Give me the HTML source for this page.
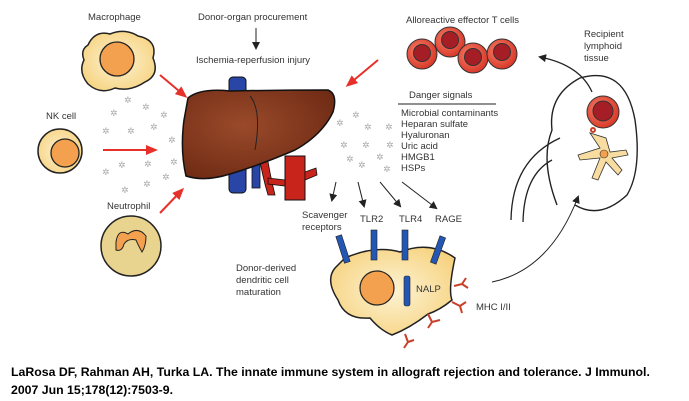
<!DOCTYPE html>
<html><head><style>
body{margin:0;width:689px;height:401px;background:#fff;overflow:hidden}
svg{display:block}
.t{font-family:"Liberation Sans",sans-serif;font-size:9.5px;fill:#333}
.c{font-family:"Liberation Sans",sans-serif;font-size:12.3px;font-weight:bold;fill:#000}
</style></head><body>
<svg width="689" height="401" viewBox="0 0 689 401">
<defs>
<marker id="ab" markerWidth="8" markerHeight="8" refX="6" refY="4" orient="auto" markerUnits="userSpaceOnUse"><path d="M0,0L8,4L0,8z" fill="#222"/></marker>
<marker id="ar" markerWidth="12" markerHeight="10" refX="9" refY="5" orient="auto" markerUnits="userSpaceOnUse"><path d="M0,0L12,5L0,10z" fill="#e8302a"/></marker>
<radialGradient id="cell" cx="0.5" cy="0.5" r="0.6"><stop offset="0" stop-color="#fdf3d4"/><stop offset="1" stop-color="#f6d27e"/></radialGradient>
<radialGradient id="tc" cx="0.4" cy="0.4" r="0.6"><stop offset="0" stop-color="#f7816a"/><stop offset="1" stop-color="#d93a2a"/></radialGradient>
<radialGradient id="lv" cx="0.4" cy="0.4" r="0.7"><stop offset="0" stop-color="#9a4a2a"/><stop offset="1" stop-color="#6e2a14"/></radialGradient>
</defs>
<text class="t" x="88" y="20">Macrophage</text>
<text class="t" x="198" y="20">Donor-organ procurement</text>
<text class="t" x="196" y="63">Ischemia-reperfusion injury</text>
<line x1="256" y1="28" x2="256" y2="48" stroke="#222" stroke-width="1" marker-end="url(#ab)"/>
<text class="t" x="46" y="119">NK cell</text>
<text class="t" x="107" y="209">Neutrophil</text>
<path d="M88,45 Q95,30 110,34 Q125,28 138,36 Q158,40 153,58 Q160,75 145,82 Q130,92 115,88 Q100,95 88,84 Q78,72 84,60 Q80,50 88,45z" fill="url(#cell)" stroke="#222" stroke-width="1.5"/>
<circle cx="117" cy="59" r="17" fill="#f3a14e" stroke="#222" stroke-width="1.3"/>
<circle cx="60" cy="151" r="22" fill="url(#cell)" stroke="#222" stroke-width="1.5"/>
<circle cx="65" cy="153" r="14" fill="#f3a14e" stroke="#222" stroke-width="1.3"/>
<circle cx="131" cy="246" r="30" fill="#e8d48f" stroke="#222" stroke-width="1.5"/>
<path d="M116,242 Q118,228 128,234 Q138,226 146,236 Q146,246 142,252 Q138,245 136,240 Q128,238 124,244 Q122,252 116,250z" fill="#f3a14e" stroke="#222" stroke-width="1"/>
<line x1="160" y1="75" x2="185" y2="96" stroke="#e8302a" stroke-width="2" marker-end="url(#ar)"/>
<line x1="103" y1="150" x2="155" y2="150" stroke="#e8302a" stroke-width="2" marker-end="url(#ar)"/>
<line x1="160" y1="213" x2="182" y2="190" stroke="#e8302a" stroke-width="2" marker-end="url(#ar)"/>
<line x1="378" y1="60" x2="348" y2="85" stroke="#e8302a" stroke-width="2" marker-end="url(#ar)"/>
<rect x="229" y="77" width="17" height="116" rx="4" fill="#2945a6" stroke="#111" stroke-width="1"/>
<rect x="252" y="140" width="8" height="48" fill="#2945a6" stroke="#111" stroke-width="0.8"/>
<path d="M258,150 Q262,175 268,195 L275,195 Q270,175 266,150z" fill="#c8241c" stroke="#111" stroke-width="0.8"/>
<rect x="285" y="156" width="20" height="44" fill="#c8241c" stroke="#111" stroke-width="1"/>
<path d="M268,178 L285,180 L285,186 L268,184z M305,172 L316,168 L317,175 L305,180z" fill="#c8241c" stroke="#111" stroke-width="0.8"/>
<path d="M188,98 Q200,88 230,91 Q280,90 328,90 Q338,94 333,112 Q322,135 295,150 Q260,165 230,174 Q205,182 186,176 Q180,150 184,120z" fill="url(#lv)" stroke="#111" stroke-width="1.5"/>
<path d="M250,96 Q262,110 255,150" fill="none" stroke="#222" stroke-width="1"/>
<g font-family="DejaVu Sans" font-size="9" fill="#aaa">
<text x="124" y="103">✲</text><text x="142" y="110">✲</text><text x="110" y="116">✲</text><text x="160" y="118">✲</text>
<text x="102" y="134">✲</text><text x="127" y="134">✲</text><text x="150" y="130">✲</text><text x="168" y="143">✲</text>
<text x="118" y="168">✲</text><text x="144" y="167">✲</text><text x="170" y="165">✲</text><text x="102" y="175">✲</text>
<text x="162" y="180">✲</text><text x="121" y="193">✲</text><text x="143" y="187">✲</text>
<text x="352" y="118">✲</text><text x="364" y="130">✲</text><text x="385" y="130">✲</text><text x="362" y="148">✲</text>
<text x="386" y="148">✲</text><text x="376" y="160">✲</text><text x="358" y="168">✲</text><text x="383" y="172">✲</text>
<text x="336" y="126">✲</text><text x="340" y="148">✲</text><text x="346" y="162">✲</text>
</g>
<g stroke="#333" stroke-width="1">
<circle cx="422" cy="54" r="15" fill="url(#tc)"/><circle cx="422" cy="53" r="8.5" fill="#a51e26"/>
<circle cx="450" cy="42" r="15" fill="url(#tc)"/><circle cx="450" cy="40" r="8.5" fill="#a51e26"/>
<circle cx="473" cy="58" r="15" fill="url(#tc)"/><circle cx="473" cy="57" r="8.5" fill="#a51e26"/>
<circle cx="502" cy="54" r="15" fill="url(#tc)"/><circle cx="502" cy="52" r="8.5" fill="#a51e26"/>
</g>
<text class="t" x="406" y="23">Alloreactive effector T cells</text>
<text class="t" x="584" y="37">Recipient</text>
<text class="t" x="584" y="49">lymphoid</text>
<text class="t" x="584" y="61">tissue</text>
<path d="M592,92 Q580,65 540,57" fill="none" stroke="#222" stroke-width="1.3" marker-end="url(#ab)"/>
<text class="t" x="409" y="98" font-size="10">Danger signals</text>
<line x1="398" y1="104" x2="496" y2="104" stroke="#222" stroke-width="1"/>
<g class="t" font-size="8.5">
<text x="401" y="116">Microbial contaminants</text>
<text x="401" y="127">Heparan sulfate</text>
<text x="401" y="138">Hyaluronan</text>
<text x="401" y="149">Uric acid</text>
<text x="401" y="160">HMGB1</text>
<text x="401" y="171">HSPs</text>
</g>
<path d="M557,205 Q540,160 552,130 Q548,95 580,78 Q625,65 635,120 Q642,170 627,195 Q600,220 575,205" fill="none" stroke="#222" stroke-width="1.4"/>
<path d="M511,220 Q512,160 560,138" fill="none" stroke="#222" stroke-width="1.3"/>
<path d="M523,222 Q524,175 552,160" fill="none" stroke="#222" stroke-width="1.3"/>
<circle cx="603" cy="112" r="16" fill="url(#tc)" stroke="#333"/><circle cx="603" cy="111" r="10" fill="#a51e26" stroke="#333"/>
<path d="M590,133 L600,148 L578,155 L580,160 L600,158 L592,178 L598,180 L606,162 L618,175 L622,170 L612,158 L628,155 L626,150 L610,152 L606,138z" fill="#f8dca0" stroke="#333" stroke-width="0.8"/>
<circle cx="593" cy="130" r="2" fill="none" stroke="#c8402a" stroke-width="2"/>
<circle cx="604" cy="154" r="4" fill="#f3a14e" stroke="#333" stroke-width="0.6"/>
<g stroke="#222" stroke-width="1" marker-end="url(#ab)">
<line x1="336" y1="182" x2="332" y2="200"/>
<line x1="358" y1="182" x2="364" y2="206"/>
<line x1="380" y1="182" x2="400" y2="206"/>
<line x1="402" y1="182" x2="436" y2="208"/>
<path d="M492,282 Q550,270 578,197" fill="none"/>
</g>
<text class="t" x="302" y="218">Scavenger</text>
<text class="t" x="302" y="230">receptors</text>
<text class="t" x="360" y="222">TLR2</text>
<text class="t" x="399" y="222">TLR4</text>
<text class="t" x="435" y="222">RAGE</text>
<text class="t" x="236" y="271">Donor-derived</text>
<text class="t" x="236" y="283">dendritic cell</text>
<text class="t" x="236" y="295">maturation</text>
<path d="M345,258 Q375,245 400,252 Q430,240 455,258 Q448,290 452,300 Q440,310 428,314 Q410,328 392,335 Q380,330 370,318 Q345,320 338,300 Q325,280 335,268z" fill="url(#cell)" stroke="#222" stroke-width="1.5"/>
<circle cx="377" cy="288" r="17" fill="#f3a14e" stroke="#222" stroke-width="1.2"/>
<rect x="404" y="276" width="6" height="30" rx="2" fill="#2457b3" stroke="#222" stroke-width="0.6"/>
<text class="t" x="416" y="292" font-size="8.5">NALP</text>
<g fill="#2457b3" stroke="#222" stroke-width="0.6">
<rect x="340" y="235" width="6" height="28" transform="rotate(-18 343 249)"/>
<rect x="371" y="230" width="6" height="30"/>
<rect x="402" y="230" width="6" height="30"/>
<rect x="435" y="236" width="6" height="28" transform="rotate(20 438 250)"/>
</g>
<g stroke="#c8402a" stroke-width="2" fill="none">
<path d="M454,286 L462,284 M462,284 L466,278 M462,284 L468,288"/>
<path d="M452,302 L460,306 M460,306 L466,302 M460,306 L462,313"/>
<path d="M428,314 L432,322 M432,322 L440,320 M432,322 L428,328"/>
<path d="M405,334 L408,342 M408,342 L414,340 M408,342 L404,348"/>
</g>
<text class="t" x="476" y="310">MHC I/II</text>
<text class="c" x="11" y="376">LaRosa DF, Rahman AH, Turka LA. The innate immune system in allograft rejection and tolerance. J Immunol.</text>
<text class="c" x="11" y="394">2007 Jun 15;178(12):7503-9.</text>
</svg>
</body></html>
